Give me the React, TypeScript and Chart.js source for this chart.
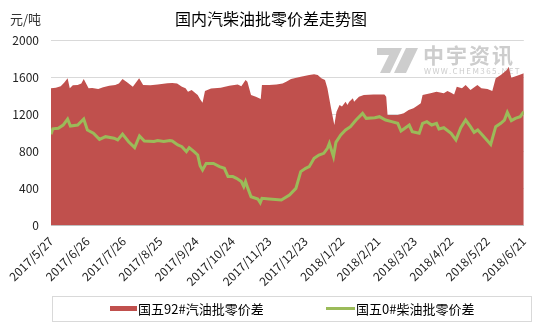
import React, { useEffect, useRef } from "react";
import { Chart, registerables } from "chart.js";

Chart.register(...registerables);

const chartTitle = "国内汽柴油批零价差走势图";
const unitLabel = "元/吨";
const seriesNames = ["国五92#汽油批零价差", "国五0#柴油批零价差"];

const tickLabels = [
  "2017/5/27", "2017/6/26", "2017/7/26", "2017/8/25", "2017/9/24", "2017/10/24", "2017/11/23",
  "2017/12/23", "2018/1/22", "2018/2/21", "2018/3/23", "2018/4/22", "2018/5/22", "2018/6/21",
];

// day offset from 2017/5/27
const gasolineDays = [
  0, 4, 8, 11, 13.7, 15.5, 18, 22, 25, 27, 31, 34, 39, 43, 48, 53, 56, 59, 63, 67.5, 72.7, 76, 82, 88,
  96, 100, 104, 108, 111, 113, 116, 121, 123, 125, 127, 132, 140, 147, 154, 157, 160.5, 162, 165, 169,
  173, 174, 180, 186, 191, 194, 198, 206, 213, 217, 220, 223, 226, 228, 231, 233.7, 235.5, 238, 240,
  243, 244.5, 246, 249, 250, 254, 258, 266, 275, 276.5, 277.6, 286, 291, 295, 299, 303, 305, 306.5,
  313, 318, 324, 327, 330, 332.5, 334.7, 339, 342, 346, 351.7, 355, 360, 364, 366.8, 371, 376, 377.5,
  379.7, 385, 390,
];
const gasolineValues = [
  1478, 1485, 1500, 1540, 1586, 1478, 1510, 1514, 1530, 1578, 1478, 1482, 1470, 1490, 1505, 1514, 1530,
  1578, 1540, 1495, 1586, 1514, 1510, 1520, 1532, 1536, 1530, 1495, 1478, 1441, 1460, 1405, 1360, 1322,
  1448, 1475, 1485, 1505, 1520, 1500, 1568, 1550, 1405, 1387, 1362, 1514, 1514, 1520, 1530, 1550, 1578,
  1604, 1622, 1629, 1622, 1586, 1568, 1478, 1261, 1081, 1225, 1297, 1280, 1333, 1297, 1333, 1369, 1333,
  1387, 1405, 1412, 1412, 1387, 1189, 1189, 1207, 1243, 1261, 1297, 1315, 1405, 1423, 1441, 1423, 1448,
  1430, 1412, 1495, 1478, 1514, 1460, 1514, 1478, 1470, 1448, 1586, 1622, 1676, 1712, 1593, 1615, 1640,
];

const dieselDays = [
  0, 1.5, 6, 10, 13.7, 16, 22, 27, 30, 35, 40, 45, 52, 55, 59, 64, 69, 73, 77, 85, 88, 93, 98, 100,
  104.6, 108, 111.7, 114, 118, 121, 123, 125, 128, 134, 139, 143, 146, 150, 153, 157, 159, 160.5, 162.4,
  165, 170.6, 172.6, 174, 180, 190, 196.7, 202, 206, 210, 213, 217, 221, 225, 228, 229.6, 233, 235, 239,
  243, 247, 251.6, 257, 260, 267, 271, 276, 281, 286, 288.7, 291, 295.5, 298, 303.7, 306.5, 310, 314,
  318, 320, 324, 330, 334, 338, 342, 346, 349, 352, 355.8, 362.7, 366.8, 371, 374, 376.4, 379.7, 383,
  387, 390,
];
const dieselValues = [
  980, 1040, 1045, 1080, 1146, 1070, 1081, 1146, 1027, 993, 926, 955, 938, 920, 983, 900, 836, 962, 908,
  902, 912, 902, 912, 908, 865, 847, 793, 836, 793, 757, 640, 595, 666, 666, 631, 613, 523, 523, 505, 469,
  415, 469, 396, 306, 281, 241, 288, 281, 270, 324, 396, 577, 613, 631, 721, 757, 775, 829, 883, 739, 893,
  973, 1027, 1063, 1135, 1207, 1153, 1160, 1171, 1135, 1117, 1099, 1016, 1038, 1081, 1009, 991, 1099,
  1117, 1081, 1099, 1038, 1052, 991, 920, 1052, 1135, 1063, 1002, 1027, 973, 870, 1063, 1099, 1135, 1218,
  1128, 1153, 1171, 1225,
];

const RED = "#C0504D";
const GREEN = "#9BBB59";
const FONT = '"Noto Sans CJK SC", "Noto Sans", sans-serif';

const decorPlugin = {
  id: "decor",
  beforeDatasetsDraw(chart: any) {
    const ctx = chart.ctx;
    ctx.save();
    ctx.fillStyle = "#cdcdcd";
    // logo
    ctx.beginPath();
    ctx.moveTo(377, 48);
    ctx.lineTo(402, 48);
    ctx.lineTo(390, 73);
    ctx.lineTo(380, 73);
    ctx.lineTo(389, 55);
    ctx.lineTo(377, 55);
    ctx.closePath();
    ctx.fill();
    ctx.beginPath();
    ctx.moveTo(406, 48);
    ctx.lineTo(418, 48);
    ctx.lineTo(406, 73);
    ctx.lineTo(394, 73);
    ctx.closePath();
    ctx.fill();
    ctx.textAlign = "left";
    ctx.textBaseline = "top";
    ctx.font = `bold 21px ${FONT}`;
    (ctx as any).letterSpacing = "2px";
    ctx.fillText("中宇资讯", 423, 45);
    ctx.font = `8px ${FONT}`;
    (ctx as any).letterSpacing = "1.4px";
    ctx.fillText("WWW.CHEM365.NET", 424, 67);
    ctx.restore();
  },
  afterDraw(chart: any) {
    const ctx = chart.ctx;
    ctx.save();
    ctx.fillStyle = "#000";
    ctx.textBaseline = "middle";
    ctx.textAlign = "center";
    ctx.font = `16px ${FONT}`;
    ctx.fillText(chartTitle, 271, 19);
    ctx.textAlign = "left";
    ctx.font = `13px ${FONT}`;
    ctx.fillStyle = "#333";
    ctx.fillText(unitLabel, 10, 19);
    // legend
    ctx.strokeStyle = "#d9d9d9";
    ctx.lineWidth = 1;
    ctx.strokeRect(52.5, 296.5, 479, 25);
    ctx.fillStyle = RED;
    ctx.fillRect(110, 306, 27, 5);
    ctx.fillStyle = "#000";
    ctx.font = `13px ${FONT}`;
    ctx.fillText(seriesNames[0], 138, 309);
    ctx.strokeStyle = GREEN;
    ctx.lineWidth = 3;
    ctx.beginPath();
    ctx.moveTo(326, 308.5);
    ctx.lineTo(355, 308.5);
    ctx.stroke();
    ctx.fillText(seriesNames[1], 356, 309);
    ctx.restore();
  },
};

export default function App() {
  const ref = useRef<HTMLCanvasElement>(null);
  useEffect(() => {
    document.body.style.margin = "0";
    Chart.defaults.font.family = FONT;
    const chart = new Chart(ref.current as HTMLCanvasElement, {
      type: "line",
      data: {
        datasets: [
          {
            label: seriesNames[1],
            data: dieselDays.map((d, i) => ({ x: d, y: dieselValues[i] })),
            borderColor: GREEN,
            borderWidth: 3,
            pointRadius: 0,
            fill: false,
            tension: 0,
            order: 0,
          },
          {
            label: seriesNames[0],
            data: gasolineDays.map((d, i) => ({ x: d, y: gasolineValues[i] })),
            borderColor: RED,
            backgroundColor: RED,
            borderWidth: 0,
            pointRadius: 0,
            fill: "origin",
            tension: 0,
            order: 1,
          },
        ],
      },
      options: {
        animation: false,
        responsive: false,
        devicePixelRatio: 1,
        layout: { padding: { left: 0, right: 18, top: 40, bottom: 0 } },
        plugins: { legend: { display: false }, title: { display: false }, tooltip: { enabled: false } },
        scales: {
          x: {
            type: "linear",
            min: 0,
            max: 390,
            z: 1,
            afterFit: (s: any) => {
              s.height = 108;
            },
            grid: { display: false, drawTicks: false },
            border: { display: true, color: "#bfbfbf", width: 1 },
            ticks: {
              stepSize: 30,
              autoSkip: false,
              minRotation: 45,
              maxRotation: 45,
              padding: 9,
              color: "#222",
              font: { size: 12, family: FONT },
              callback: (v: any) => tickLabels[Math.round(Number(v) / 30)] ?? "",
            },
          },
          y: {
            min: 0,
            max: 2000,
            afterFit: (s: any) => {
              s.width = 51;
            },
            grid: { color: "#d9d9d9", drawTicks: false },
            border: { display: false },
            ticks: {
              stepSize: 400,
              padding: 12,
              color: "#222",
              font: { size: 12, family: FONT },
              callback: (v: any) => String(v),
            },
          },
        },
      },
      plugins: [decorPlugin],
    });
    return () => chart.destroy();
  }, []);
  return (
    <div style={{ width: 543, height: 333 }}>
      <canvas ref={ref} width={543} height={333} style={{ display: "block" }} />
    </div>
  );
}
